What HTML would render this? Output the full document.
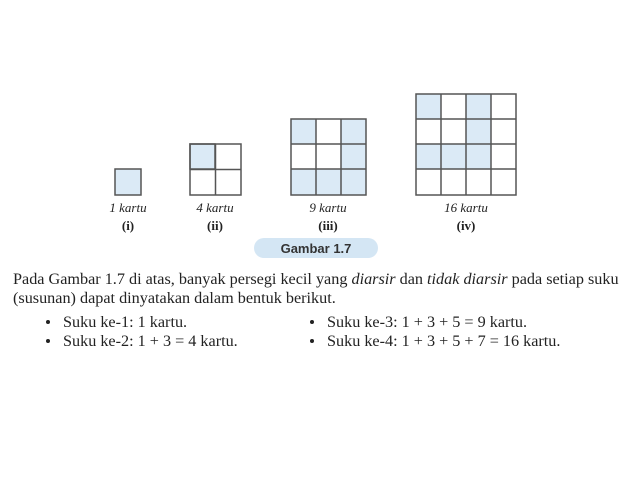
<!DOCTYPE html>
<html><head><meta charset="utf-8"><style>
body{margin:0;width:638px;height:478px;background:#fff;position:relative;overflow:hidden;font-family:"Liberation Serif",serif;color:#222}
.t{position:absolute;white-space:nowrap;font-size:16.2px;line-height:18px}
.c{position:absolute;font-size:13px;text-align:center;width:80px;line-height:14px}
</style></head><body>
<svg width="638" height="478" style="position:absolute;left:0;top:0">
<g stroke="#555" stroke-width="1.5" fill="none">
<rect x="115" y="169" width="26" height="26" fill="#dbeaf6"/>
<rect x="190" y="144" width="25" height="25" fill="#dbeaf6"/>
<rect x="190" y="144" width="51" height="51"/>
<line x1="215.5" y1="144" x2="215.5" y2="195"/><line x1="190" y1="169.5" x2="241" y2="169.5"/>
<g fill="#dbeaf6" stroke="none">
<rect x="291" y="119" width="25" height="25"/><rect x="341" y="119" width="25" height="25"/><rect x="341" y="144" width="25" height="25"/><rect x="291" y="169" width="75" height="26"/>
<rect x="416" y="94" width="25" height="25"/><rect x="466" y="94" width="25" height="25"/><rect x="466" y="119" width="25" height="25"/><rect x="416" y="144" width="75" height="25"/>
</g>
<rect x="291" y="119" width="75" height="76"/>
<line x1="316" y1="119" x2="316" y2="195"/><line x1="341" y1="119" x2="341" y2="195"/>
<line x1="291" y1="144" x2="366" y2="144"/><line x1="291" y1="169" x2="366" y2="169"/>
<rect x="416" y="94" width="100" height="101"/>
<line x1="441" y1="94" x2="441" y2="195"/><line x1="466" y1="94" x2="466" y2="195"/><line x1="491" y1="94" x2="491" y2="195"/>
<line x1="416" y1="119" x2="516" y2="119"/><line x1="416" y1="144" x2="516" y2="144"/><line x1="416" y1="169" x2="516" y2="169"/>
</g>
<rect x="254" y="238" width="124" height="20" rx="10" fill="#d4e6f4"/>
<text x="316" y="253" text-anchor="middle" font-family="Liberation Sans, sans-serif" font-size="13" font-weight="bold" fill="#333">Gambar  1.7</text>
<g fill="#222"><circle cx="48" cy="322" r="2"/><circle cx="48" cy="341" r="2"/><circle cx="312" cy="322" r="2"/><circle cx="312" cy="341" r="2"/></g>
</svg>
<div class="c" style="left:88px;top:201px"><i>1 kartu</i></div>
<div class="c" style="left:88px;top:219px"><b>(i)</b></div>
<div class="c" style="left:175px;top:201px"><i>4 kartu</i></div>
<div class="c" style="left:175px;top:219px"><b>(ii)</b></div>
<div class="c" style="left:288px;top:201px"><i>9 kartu</i></div>
<div class="c" style="left:288px;top:219px"><b>(iii)</b></div>
<div class="c" style="left:426px;top:201px"><i>16 kartu</i></div>
<div class="c" style="left:426px;top:219px"><b>(iv)</b></div>
<div class="t" style="left:13px;top:270px">Pada Gambar 1.7 di atas, banyak persegi kecil yang <i>diarsir</i> dan <i>tidak diarsir</i> pada setiap suku</div>
<div class="t" style="left:13px;top:289px">(susunan) dapat dinyatakan dalam bentuk berikut.</div>
<div class="t" style="left:63px;top:313px">Suku ke-1: 1 kartu.</div>
<div class="t" style="left:63px;top:332px">Suku ke-2: 1 + 3 = 4 kartu.</div>
<div class="t" style="left:327px;top:313px">Suku ke-3: 1 + 3 + 5 = 9 kartu.</div>
<div class="t" style="left:327px;top:332px">Suku ke-4: 1 + 3 + 5 + 7 = 16 kartu.</div>
</body></html>
